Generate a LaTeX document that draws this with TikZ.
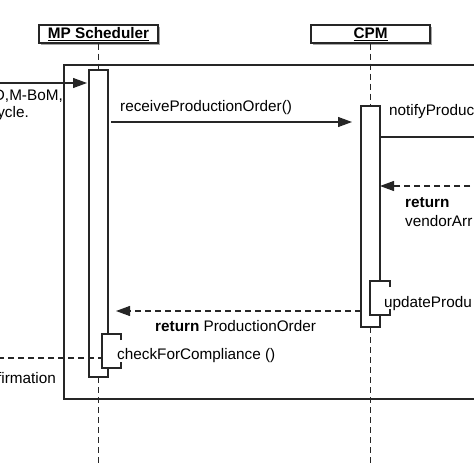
\documentclass[tikz,border=0pt]{standalone}
\usepackage{fontspec}
\setmainfont{Liberation Sans}
\usetikzlibrary{arrows.meta,shadows}
\begin{document}
\begin{tikzpicture}[x=1pt,y=-1pt,
  every node/.style={font=\fontsize{15.3}{18}\selectfont},
  ln/.style={draw=black!85, line width=1.2pt},
  head/.style={ln, fill=white, minimum width=119pt, minimum height=18pt, inner sep=0pt,
    drop shadow={shadow xshift=1.5pt, shadow yshift=-2pt, fill=black!35, opacity=1}},
  act/.style={ln, fill=white, minimum width=19pt, inner sep=0pt, outer sep=0pt, anchor=north west},
  life/.style={draw=black!85, line width=1.1pt, dash pattern=on 6pt off 4pt},
  msg/.style={draw=black!85, line width=1.1pt, -{Triangle[length=14pt,width=10pt]}},
  ret/.style={msg, dash pattern=on 6pt off 4pt},
  lbl/.style={inner sep=0pt, anchor=base west},
  lblr/.style={inner sep=0pt, anchor=base east},
]
\useasboundingbox (0,0) rectangle (474,474);

% frame
\draw[ln] (490,65) -- (64,65) -- (64,399) -- (490,399);

% heads
\node[head] (mpHead) at (98.5,34) {\underline{\textbf{MP Scheduler}}};
\node[head] (cpmHead) at (370.5,34) {\underline{\textbf{CPM}}};

% activations
\node[act, minimum height=307pt] (mpAct) at (89,70) {};
\node[act, minimum height=221pt] (cpmAct) at (361,106) {};

% nested activations
\node[act, draw=none, minimum width=20pt, minimum height=34pt] (cpmSub) at (370,281) {};
\draw[ln] ([yshift=-6pt]cpmSub.north east) -- (cpmSub.north east) -- (cpmSub.north west)
  -- (cpmSub.south west) -- (cpmSub.south east) -- ++(0,-6);
\node[act, draw=none, minimum width=19pt, minimum height=34pt] (mpSub) at (102,334) {};
\draw[ln] ([yshift=-6pt]mpSub.north east) -- (mpSub.north east) -- (mpSub.north west)
  -- (mpSub.south west) -- (mpSub.south east) -- ++(0,-6);

% lifelines
\coordinate (mpEnd) at (98.5,463);
\coordinate (cpmEnd) at (370.5,463);
\draw[life] (mpHead.south) -- (mpAct.north);
\draw[life] (mpAct.south) -- (mpEnd);
\draw[life] (cpmHead.south) -- (cpmAct.north);
\draw[life] (cpmAct.south) -- (cpmEnd);

% messages
\coordinate (inStart) at (-2,83);
\draw[msg, shorten >=2pt] (inStart) -- (inStart -| mpAct.west);
\coordinate (rcvY) at (0,122);
\draw[msg, shorten <=3pt, shorten >=9pt] (rcvY -| mpAct.east) -- (rcvY -| cpmAct.west);
\coordinate (notY) at (490,137);
\draw[draw=black!85, line width=1.1pt] (notY -| cpmAct.east) -- (notY);
\coordinate (venY) at (490,186);
\draw[ret] (venY) -- (venY -| cpmAct.east);
\coordinate (poY) at (0,311);
\draw[ret, shorten >=8pt] (poY -| cpmAct.west) -- (poY -| mpAct.east);
\coordinate (chkStart) at (-2,358);
\draw[life] (chkStart) -- (chkStart -| mpSub.west);

% labels
\node[lblr] (inL1) at (63,100) {D,M-BoM,};
\node[lblr] (inL2) at (29,117) {ycle.};
\node[lbl] (rcvL) at (120,111) {receiveProductionOrder()};
\node[lbl] (notL) at (389,115) {notifyProduc};
\node[lbl] (retL) at (405,207) {\textbf{return}};
\node[lbl] (venL) at (405,226) {vendorArr};
\node[lbl] (updL) at (384,307) {updateProdu};
\node[lbl] (poL) at (155,331) {\textbf{return} ProductionOrder};
\node[lbl] (chkL) at (117,359) {checkForCompliance ()};
\node[lblr] (cfL) at (56,383) {firmation};
\end{tikzpicture}
\end{document}
